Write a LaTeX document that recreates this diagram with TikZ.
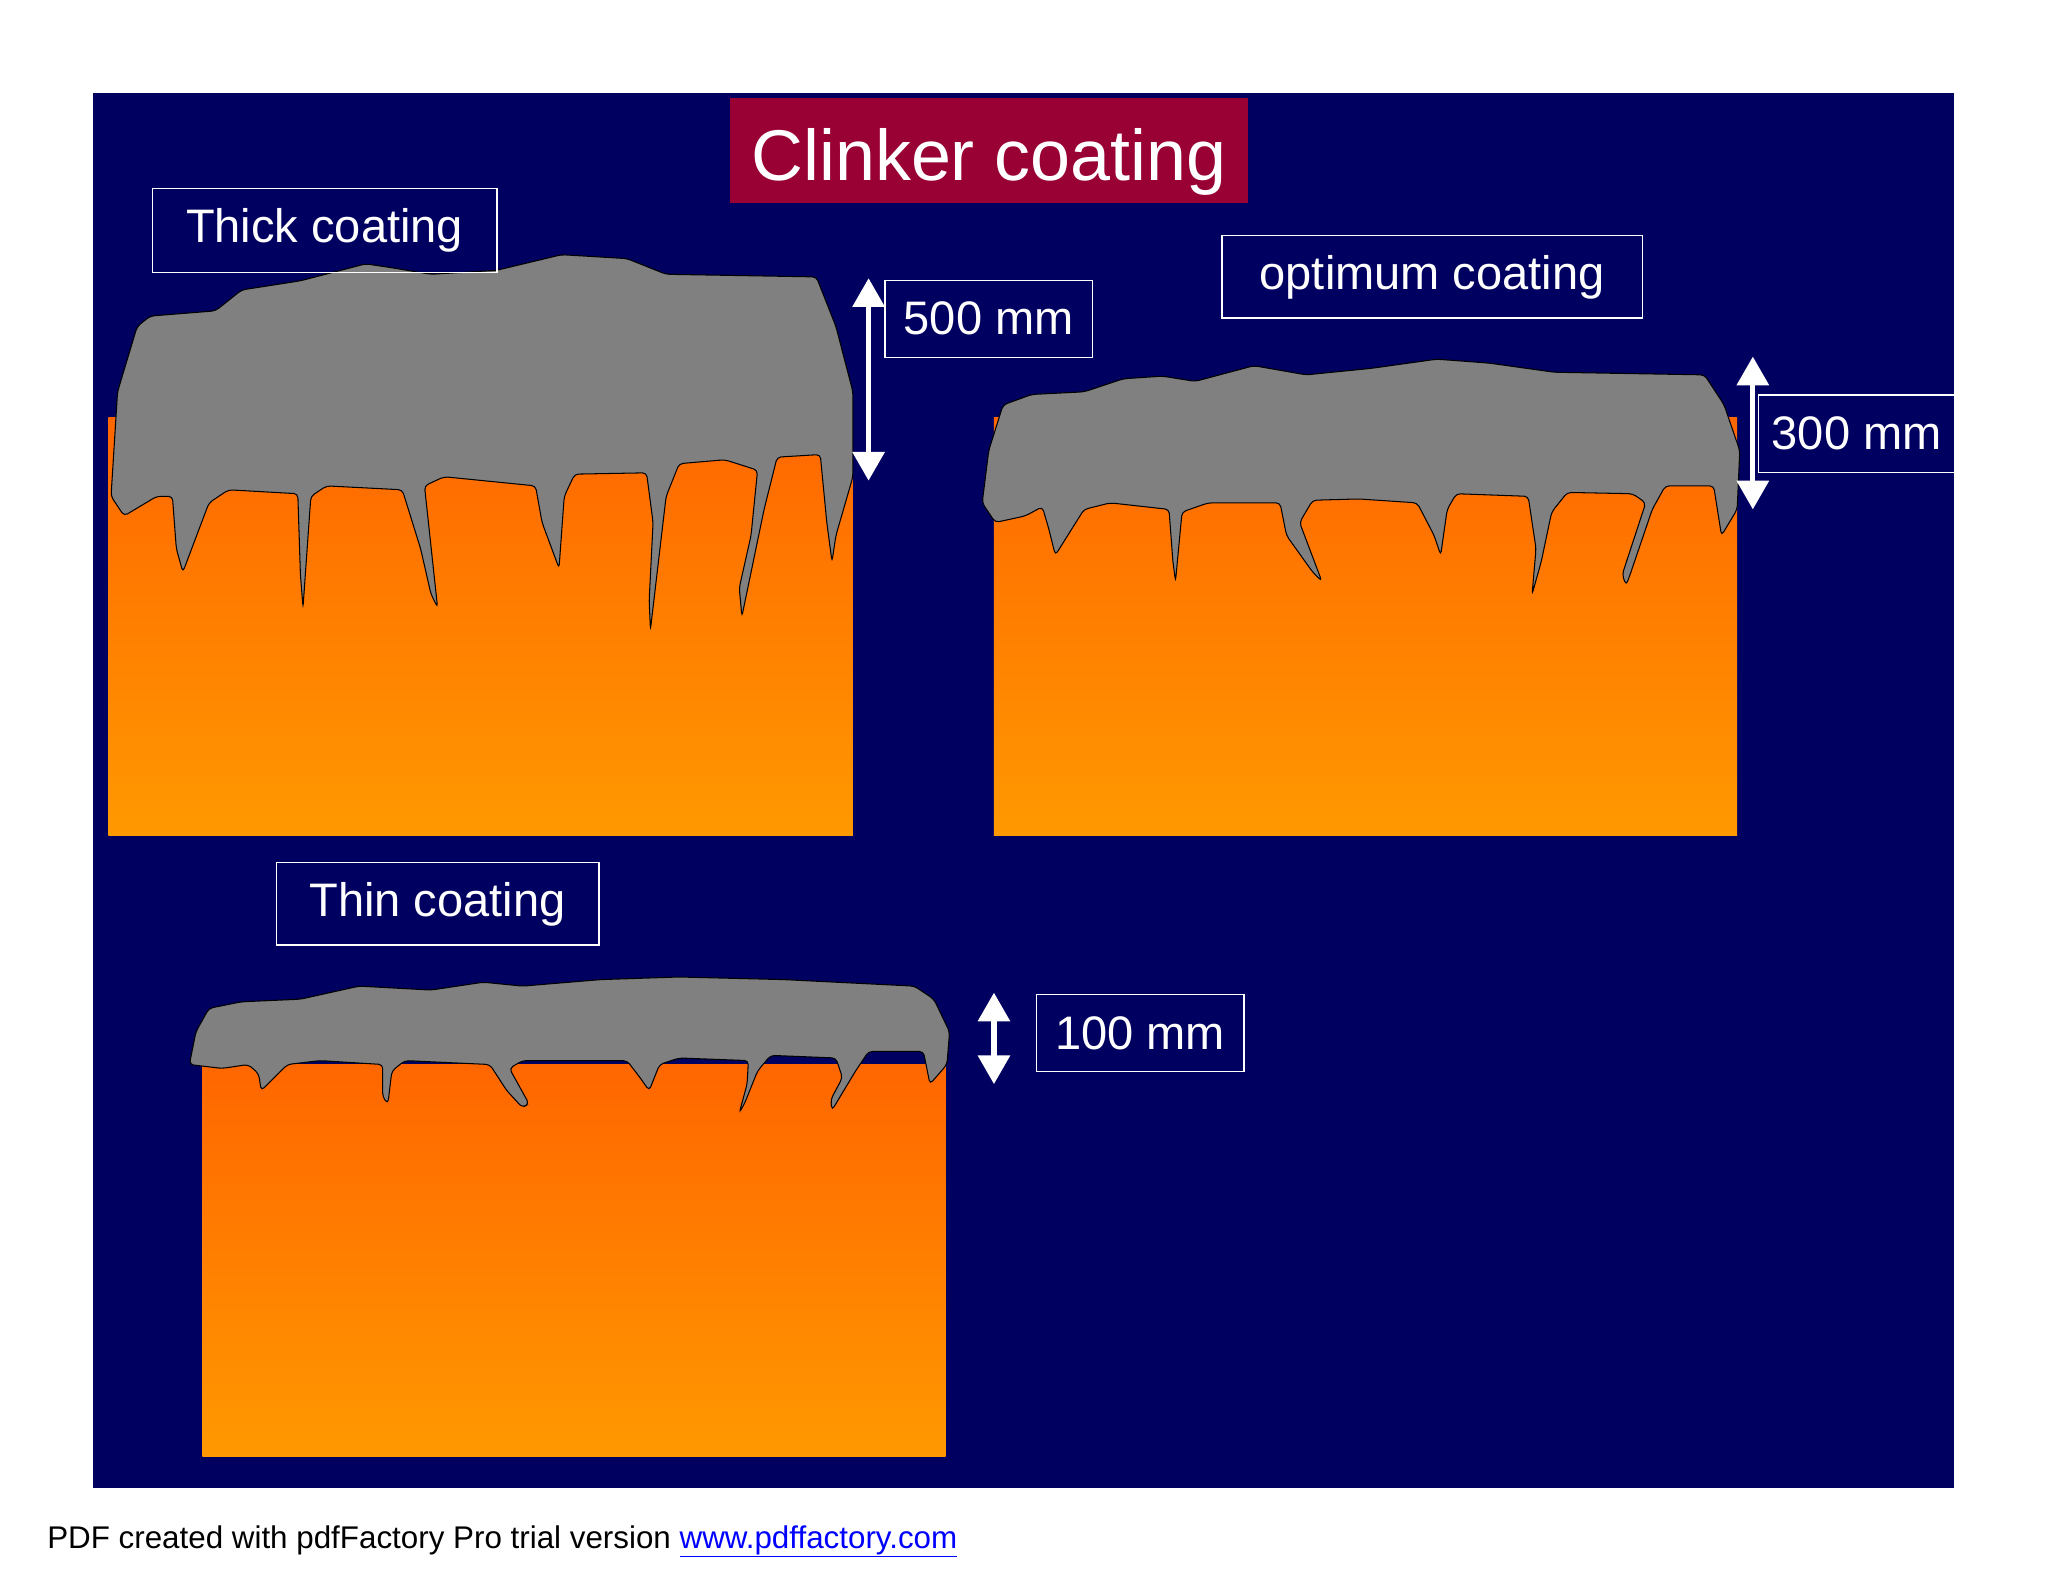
\documentclass[tikz,border=0pt]{standalone}
\usepackage{fontspec}
\setmainfont{Liberation Sans}
\usetikzlibrary{arrows.meta}
\definecolor{navy}{RGB}{0,0,96}
\definecolor{titlered}{RGB}{153,0,51}
\definecolor{ortop}{RGB}{255,102,0}
\definecolor{orbot}{RGB}{255,153,0}
\definecolor{coat}{RGB}{128,128,128}
\tikzset{
 block/.style={top color=ortop,bottom color=orbot,draw=none},
 coating/.style={fill=coat,draw=black,line width=0.8pt,rounded corners=3pt},
 lab/.style={draw=white,line width=1pt,text=white,font=\fontsize{36}{40}\selectfont,inner xsep=10pt,inner ysep=10pt,anchor=north west},
 dim/.style={white,line width=4pt,{Triangle[width=24pt,length=22pt]}-{Triangle[width=24pt,length=22pt]}}
}
\begin{document}
\begin{tikzpicture}[x=1pt,y=-1pt]
\useasboundingbox (0,0) rectangle (1568,1211);
\fill[white] (0,0) rectangle (1568,1211);
\fill[navy] (71,71) rectangle (1496,1139);
\node[fill=titlered,text=white,minimum width=396pt,minimum height=80pt,text depth=0pt,font=\fontsize{55}{60}\selectfont,anchor=north west,inner sep=0pt] (title) at (559,75) {\raisebox{-6pt}{Clinker coating}};
% blocks
\shade[block] (83,320) rectangle (653,640);
\shade[block] (761,320) rectangle (1330,640);
\shade[block] (155,815) rectangle (724,1115);
% coating 1
\draw[coating] (90,300) -- (105,250) -- (115,242) -- (165,238) -- (185,222) -- (230,215) -- (280,202) -- (300,205) -- (330,210) -- (380,207) -- (430,195) -- (480,198) -- (510,210) -- (625,212) -- (640,250) -- (653,300) -- (653,365) -- (640,410) -- (637,430) -- (633,400) -- (628,348) -- (595,350) -- (585,390) -- (568,472) -- (566,450) -- (575,410) -- (580,360) -- (555,352) -- (520,355) -- (510,380) -- (498,482) -- (497,460) -- (500,400) -- (495,362) -- (440,363) -- (432,380) -- (428,435) -- (415,400) -- (410,372) -- (340,365) -- (325,372) -- (335,465) -- (330,455) -- (322,420) -- (308,375) -- (250,372) -- (238,380) -- (232,465) -- (230,440) -- (228,378) -- (175,375) -- (160,385) -- (140,438) -- (135,420) -- (132,380) -- (120,380) -- (95,395) -- (85,380) -- cycle;
% coating 2
\draw[coating] (752,385) -- (757,345) -- (768,310) -- (790,302) -- (830,300) -- (860,290) -- (890,288) -- (915,292) -- (960,280) -- (1000,287) -- (1050,282) -- (1100,275) -- (1140,278) -- (1190,285) -- (1305,287) -- (1320,310) -- (1332,345) -- (1330,390) -- (1318,410) -- (1312,372) -- (1275,372) -- (1265,390) -- (1248,440) -- (1245,448) -- (1242,440) -- (1260,385) -- (1250,378) -- (1200,377) -- (1188,392) -- (1180,430) -- (1173,455) -- (1176,420) -- (1170,380) -- (1115,378) -- (1108,390) -- (1103,425) -- (1098,410) -- (1085,385) -- (1040,382) -- (1005,383) -- (995,400) -- (1012,445) -- (1005,438) -- (985,410) -- (980,385) -- (925,385) -- (905,392) -- (900,445) -- (898,430) -- (895,390) -- (850,385) -- (830,390) -- (808,425) -- (803,405) -- (798,388) -- (785,395) -- (762,400) -- cycle;
% coating 3
\draw[coating] (145,815) -- (150,790) -- (160,772) -- (185,767) -- (230,765) -- (275,755) -- (330,758) -- (370,752) -- (400,755) -- (460,750) -- (520,748) -- (600,750) -- (700,755) -- (715,765) -- (727,790) -- (725,815) -- (712,830) -- (707,805) -- (665,805) -- (655,820) -- (640,845) -- (637,850) -- (636,842) -- (645,825) -- (640,810) -- (590,808) -- (580,820) -- (570,845) -- (566,852) -- (572,830) -- (573,812) -- (520,810) -- (505,815) -- (497,835) -- (490,825) -- (480,812) -- (400,812) -- (390,818) -- (405,845) -- (400,848) -- (388,835) -- (375,815) -- (310,812) -- (300,820) -- (297,845) -- (293,840) -- (293,815) -- (245,812) -- (220,815) -- (205,830) -- (200,835) -- (198,822) -- (190,815) -- (170,818) -- cycle;
% labels
\node[lab,minimum width=264pt,minimum height=64pt] (thick) at (116,144) {Thick coating};
\node[lab,minimum width=159pt,minimum height=59pt] (l500) at (677,214) {500 mm};
\node[lab,minimum width=322pt,minimum height=63pt] (opt) at (935,180) {optimum coating};
\node[lab,minimum width=150pt,minimum height=59pt] (l300) at (1346,302) {300 mm};
\node[lab,minimum width=247pt,minimum height=63pt] (thin) at (211,660) {Thin coating};
\node[lab,minimum width=159pt,minimum height=59pt] (l100) at (793,761) {100 mm};
% dimension arrows
\coordinate (a1) at (665,213); \coordinate (b1) at (665,368);
\coordinate (a2) at (1342,273); \coordinate (b2) at (1342,390);
\coordinate (a3) at (761,760); \coordinate (b3) at (761,830);
\draw[dim] (a1) -- (b1);
\draw[dim] (a2) -- (b2);
\draw[dim] (a3) -- (b3);
% footer
\node[anchor=west,font=\fontsize{24}{28}\selectfont,inner sep=0pt] (foot) at (36,1180) {PDF created with pdfFactory Pro trial version \textcolor{blue}{\underline{www.pdffactory.com}}};
\end{tikzpicture}
\end{document}
